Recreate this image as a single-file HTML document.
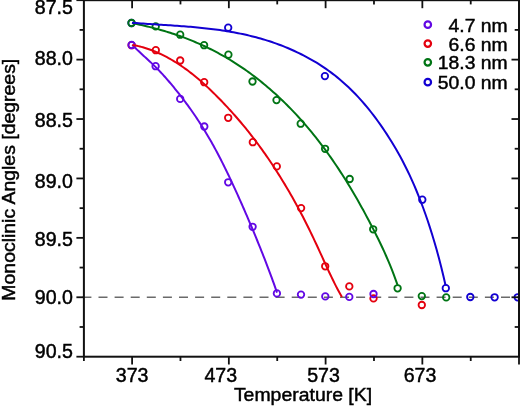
<!DOCTYPE html>
<html><head><meta charset="utf-8"><title>Monoclinic angle vs temperature</title>
<style>html,body{margin:0;padding:0;background:#fff;}body{width:520px;height:406px;overflow:hidden;}svg{display:block;}</style>
</head><body>
<svg width="520" height="406" viewBox="0 0 520 406">
<line x1="82.4" y1="297.3" x2="519.0" y2="297.3" stroke="#6a6a6a" stroke-width="1.6" stroke-dasharray="9 7.1"/>
<circle cx="131.5" cy="23.0" r="3.25" fill="none" stroke="#1200d2" stroke-width="1.8"/>
<circle cx="228.2" cy="27.7" r="3.25" fill="none" stroke="#1200d2" stroke-width="1.8"/>
<circle cx="324.9" cy="76.1" r="3.25" fill="none" stroke="#1200d2" stroke-width="1.8"/>
<circle cx="422.3" cy="199.7" r="3.25" fill="none" stroke="#1200d2" stroke-width="1.8"/>
<circle cx="445.8" cy="288.2" r="3.25" fill="none" stroke="#1200d2" stroke-width="1.8"/>
<circle cx="470.3" cy="297.0" r="3.25" fill="none" stroke="#1200d2" stroke-width="1.8"/>
<circle cx="494.6" cy="297.3" r="3.25" fill="none" stroke="#1200d2" stroke-width="1.8"/>
<circle cx="517.7" cy="297.3" r="3.25" fill="none" stroke="#1200d2" stroke-width="1.8"/>
<circle cx="131.5" cy="23.0" r="3.25" fill="none" stroke="#007414" stroke-width="1.8"/>
<circle cx="155.7" cy="26.4" r="3.25" fill="none" stroke="#007414" stroke-width="1.8"/>
<circle cx="180.2" cy="34.7" r="3.25" fill="none" stroke="#007414" stroke-width="1.8"/>
<circle cx="204.1" cy="45.2" r="3.25" fill="none" stroke="#007414" stroke-width="1.8"/>
<circle cx="228.4" cy="54.7" r="3.25" fill="none" stroke="#007414" stroke-width="1.8"/>
<circle cx="252.5" cy="81.5" r="3.25" fill="none" stroke="#007414" stroke-width="1.8"/>
<circle cx="276.5" cy="100.1" r="3.25" fill="none" stroke="#007414" stroke-width="1.8"/>
<circle cx="300.7" cy="123.7" r="3.25" fill="none" stroke="#007414" stroke-width="1.8"/>
<circle cx="325.1" cy="148.8" r="3.25" fill="none" stroke="#007414" stroke-width="1.8"/>
<circle cx="349.7" cy="179.0" r="3.25" fill="none" stroke="#007414" stroke-width="1.8"/>
<circle cx="373.2" cy="229.3" r="3.25" fill="none" stroke="#007414" stroke-width="1.8"/>
<circle cx="397.6" cy="288.3" r="3.25" fill="none" stroke="#007414" stroke-width="1.8"/>
<circle cx="421.8" cy="296.1" r="3.25" fill="none" stroke="#007414" stroke-width="1.8"/>
<circle cx="446.2" cy="297.4" r="3.25" fill="none" stroke="#007414" stroke-width="1.8"/>
<circle cx="131.6" cy="45.2" r="3.25" fill="none" stroke="#e4000e" stroke-width="1.8"/>
<circle cx="155.8" cy="50.2" r="3.25" fill="none" stroke="#e4000e" stroke-width="1.8"/>
<circle cx="180.2" cy="60.5" r="3.25" fill="none" stroke="#e4000e" stroke-width="1.8"/>
<circle cx="204.2" cy="82.2" r="3.25" fill="none" stroke="#e4000e" stroke-width="1.8"/>
<circle cx="228.2" cy="117.8" r="3.25" fill="none" stroke="#e4000e" stroke-width="1.8"/>
<circle cx="252.8" cy="142.2" r="3.25" fill="none" stroke="#e4000e" stroke-width="1.8"/>
<circle cx="276.8" cy="166.4" r="3.25" fill="none" stroke="#e4000e" stroke-width="1.8"/>
<circle cx="301.1" cy="208.1" r="3.25" fill="none" stroke="#e4000e" stroke-width="1.8"/>
<circle cx="325.2" cy="266.3" r="3.25" fill="none" stroke="#e4000e" stroke-width="1.8"/>
<circle cx="349.3" cy="286.4" r="3.25" fill="none" stroke="#e4000e" stroke-width="1.8"/>
<circle cx="373.5" cy="298.4" r="3.25" fill="none" stroke="#e4000e" stroke-width="1.8"/>
<circle cx="421.8" cy="305.0" r="3.25" fill="none" stroke="#e4000e" stroke-width="1.8"/>
<circle cx="131.6" cy="45.0" r="3.25" fill="none" stroke="#6208e4" stroke-width="1.8"/>
<circle cx="155.6" cy="66.2" r="3.25" fill="none" stroke="#6208e4" stroke-width="1.8"/>
<circle cx="180.2" cy="98.9" r="3.25" fill="none" stroke="#6208e4" stroke-width="1.8"/>
<circle cx="204.3" cy="126.5" r="3.25" fill="none" stroke="#6208e4" stroke-width="1.8"/>
<circle cx="228.2" cy="182.3" r="3.25" fill="none" stroke="#6208e4" stroke-width="1.8"/>
<circle cx="252.6" cy="226.8" r="3.25" fill="none" stroke="#6208e4" stroke-width="1.8"/>
<circle cx="276.9" cy="293.4" r="3.25" fill="none" stroke="#6208e4" stroke-width="1.8"/>
<circle cx="301.0" cy="294.6" r="3.25" fill="none" stroke="#6208e4" stroke-width="1.8"/>
<circle cx="325.3" cy="296.4" r="3.25" fill="none" stroke="#6208e4" stroke-width="1.8"/>
<circle cx="349.3" cy="296.9" r="3.25" fill="none" stroke="#6208e4" stroke-width="1.8"/>
<circle cx="373.5" cy="294.0" r="3.25" fill="none" stroke="#6208e4" stroke-width="1.8"/>
<path d="M132.30,44.92 L133.34,45.99 L134.38,47.04 L135.42,48.08 L136.46,49.10 L137.51,50.10 L138.55,51.09 L139.59,52.07 L140.63,53.05 L141.67,54.01 L142.71,54.97 L143.75,55.93 L144.79,56.88 L145.83,57.83 L146.87,58.78 L147.92,59.74 L148.96,60.70 L150.00,61.66 L151.04,62.63 L152.08,63.61 L153.12,64.60 L154.16,65.61 L155.20,66.62 L156.24,67.66 L157.28,68.71 L158.33,69.77 L159.37,70.85 L160.41,71.95 L161.45,73.07 L162.49,74.19 L163.53,75.34 L164.57,76.49 L165.61,77.67 L166.65,78.85 L167.69,80.05 L168.74,81.26 L169.78,82.48 L170.82,83.72 L171.86,84.96 L172.90,86.22 L173.94,87.49 L174.98,88.76 L176.02,90.05 L177.06,91.35 L178.10,92.66 L179.15,93.98 L180.19,95.30 L181.23,96.64 L182.27,98.00 L183.31,99.36 L184.35,100.74 L185.39,102.13 L186.43,103.53 L187.47,104.94 L188.51,106.37 L189.56,107.82 L190.60,109.28 L191.64,110.75 L192.68,112.24 L193.72,113.75 L194.76,115.27 L195.80,116.80 L196.84,118.36 L197.88,119.93 L198.92,121.52 L199.97,123.13 L201.01,124.75 L202.05,126.40 L203.09,128.06 L204.13,129.74 L205.17,131.45 L206.21,133.17 L207.25,134.91 L208.29,136.68 L209.33,138.46 L210.38,140.27 L211.42,142.10 L212.46,143.95 L213.50,145.83 L214.54,147.72 L215.58,149.64 L216.62,151.58 L217.66,153.55 L218.70,155.53 L219.74,157.53 L220.79,159.56 L221.83,161.60 L222.87,163.67 L223.91,165.75 L224.95,167.85 L225.99,169.97 L227.03,172.11 L228.07,174.26 L229.11,176.44 L230.15,178.63 L231.20,180.84 L232.24,183.06 L233.28,185.30 L234.32,187.56 L235.36,189.83 L236.40,192.12 L237.44,194.42 L238.48,196.73 L239.52,199.06 L240.56,201.41 L241.61,203.76 L242.65,206.13 L243.69,208.51 L244.73,210.91 L245.77,213.31 L246.81,215.73 L247.85,218.16 L248.89,220.60 L249.93,223.05 L250.97,225.51 L252.02,227.99 L253.06,230.47 L254.10,232.96 L255.14,235.46 L256.18,237.97 L257.22,240.50 L258.26,243.04 L259.30,245.60 L260.34,248.18 L261.38,250.77 L262.43,253.38 L263.47,256.02 L264.51,258.67 L265.55,261.35 L266.59,264.05 L267.63,266.78 L268.67,269.53 L269.71,272.31 L270.75,275.11 L271.79,277.95 L272.84,280.81 L273.88,283.71 L274.92,286.64 L275.96,289.61 L277.00,292.61" fill="none" stroke="#6208e4" stroke-width="2" stroke-linejoin="round"/>
<path d="M132.30,44.91 L133.81,45.18 L135.32,45.47 L136.83,45.79 L138.33,46.13 L139.84,46.50 L141.35,46.89 L142.86,47.30 L144.37,47.74 L145.88,48.21 L147.39,48.70 L148.89,49.21 L150.40,49.75 L151.91,50.31 L153.42,50.89 L154.93,51.50 L156.44,52.13 L157.95,52.79 L159.46,53.47 L160.96,54.17 L162.47,54.90 L163.98,55.65 L165.49,56.42 L167.00,57.22 L168.51,58.04 L170.02,58.88 L171.52,59.75 L173.03,60.64 L174.54,61.55 L176.05,62.49 L177.56,63.45 L179.07,64.43 L180.58,65.43 L182.08,66.46 L183.59,67.51 L185.10,68.59 L186.61,69.68 L188.12,70.80 L189.63,71.94 L191.14,73.11 L192.65,74.29 L194.15,75.50 L195.66,76.73 L197.17,77.98 L198.68,79.26 L200.19,80.55 L201.70,81.87 L203.21,83.21 L204.71,84.58 L206.22,85.96 L207.73,87.36 L209.24,88.79 L210.75,90.23 L212.26,91.69 L213.77,93.16 L215.27,94.66 L216.78,96.17 L218.29,97.70 L219.80,99.24 L221.31,100.80 L222.82,102.37 L224.33,103.95 L225.84,105.56 L227.34,107.17 L228.85,108.81 L230.36,110.46 L231.87,112.13 L233.38,113.81 L234.89,115.52 L236.40,117.24 L237.90,118.98 L239.41,120.74 L240.92,122.52 L242.43,124.32 L243.94,126.14 L245.45,127.98 L246.96,129.84 L248.46,131.72 L249.97,133.62 L251.48,135.55 L252.99,137.50 L254.50,139.47 L256.01,141.46 L257.52,143.48 L259.03,145.52 L260.53,147.59 L262.04,149.68 L263.55,151.80 L265.06,153.94 L266.57,156.10 L268.08,158.29 L269.59,160.51 L271.09,162.75 L272.60,165.02 L274.11,167.32 L275.62,169.64 L277.13,171.99 L278.64,174.36 L280.15,176.76 L281.65,179.19 L283.16,181.65 L284.67,184.14 L286.18,186.66 L287.69,189.20 L289.20,191.78 L290.71,194.40 L292.22,197.04 L293.72,199.72 L295.23,202.44 L296.74,205.19 L298.25,207.98 L299.76,210.81 L301.27,213.67 L302.78,216.57 L304.28,219.51 L305.79,222.49 L307.30,225.50 L308.81,228.54 L310.32,231.62 L311.83,234.74 L313.34,237.89 L314.84,241.07 L316.35,244.28 L317.86,247.52 L319.37,250.80 L320.88,254.09 L322.39,257.40 L323.90,260.71 L325.41,264.01 L326.91,267.29 L328.42,270.55 L329.93,273.77 L331.44,276.94 L332.95,280.06 L334.46,283.11 L335.97,286.08 L337.47,288.96 L338.98,291.75 L340.49,294.44 L342.00,297.01" fill="none" stroke="#e4000e" stroke-width="2" stroke-linejoin="round"/>
<path d="M132.00,23.05 L133.91,23.43 L135.82,23.83 L137.73,24.24 L139.64,24.65 L141.55,25.08 L143.46,25.52 L145.38,25.96 L147.29,26.42 L149.20,26.89 L151.11,27.36 L153.02,27.85 L154.93,28.36 L156.84,28.87 L158.75,29.39 L160.66,29.93 L162.57,30.48 L164.48,31.04 L166.39,31.62 L168.31,32.21 L170.22,32.81 L172.13,33.43 L174.04,34.06 L175.95,34.70 L177.86,35.36 L179.77,36.03 L181.68,36.72 L183.59,37.43 L185.50,38.15 L187.41,38.88 L189.32,39.63 L191.23,40.40 L193.15,41.18 L195.06,41.98 L196.97,42.80 L198.88,43.63 L200.79,44.49 L202.70,45.35 L204.61,46.24 L206.52,47.15 L208.43,48.07 L210.34,49.01 L212.25,49.97 L214.16,50.95 L216.07,51.95 L217.99,52.97 L219.90,54.01 L221.81,55.07 L223.72,56.15 L225.63,57.25 L227.54,58.37 L229.45,59.51 L231.36,60.67 L233.27,61.86 L235.18,63.06 L237.09,64.29 L239.00,65.54 L240.92,66.82 L242.83,68.11 L244.74,69.43 L246.65,70.77 L248.56,72.14 L250.47,73.53 L252.38,74.94 L254.29,76.38 L256.20,77.84 L258.11,79.33 L260.02,80.84 L261.93,82.37 L263.84,83.94 L265.76,85.52 L267.67,87.14 L269.58,88.78 L271.49,90.44 L273.40,92.14 L275.31,93.86 L277.22,95.60 L279.13,97.38 L281.04,99.18 L282.95,101.01 L284.86,102.87 L286.77,104.76 L288.68,106.67 L290.60,108.62 L292.51,110.60 L294.42,112.61 L296.33,114.65 L298.24,116.73 L300.15,118.83 L302.06,120.97 L303.97,123.15 L305.88,125.36 L307.79,127.60 L309.70,129.88 L311.61,132.19 L313.53,134.54 L315.44,136.93 L317.35,139.36 L319.26,141.82 L321.17,144.32 L323.08,146.87 L324.99,149.45 L326.90,152.07 L328.81,154.73 L330.72,157.43 L332.63,160.18 L334.54,162.96 L336.45,165.79 L338.37,168.66 L340.28,171.58 L342.19,174.54 L344.10,177.54 L346.01,180.59 L347.92,183.69 L349.83,186.83 L351.74,190.02 L353.65,193.25 L355.56,196.53 L357.47,199.86 L359.38,203.23 L361.29,206.65 L363.21,210.11 L365.12,213.62 L367.03,217.18 L368.94,220.78 L370.85,224.43 L372.76,228.13 L374.67,231.88 L376.58,235.68 L378.49,239.54 L380.40,243.49 L382.31,247.54 L384.22,251.70 L386.14,255.98 L388.05,260.41 L389.96,264.99 L391.87,269.74 L393.78,274.68 L395.69,279.82 L397.60,285.17" fill="none" stroke="#007414" stroke-width="2" stroke-linejoin="round"/>
<path d="M132.00,22.76 L134.26,22.93 L136.51,23.11 L138.77,23.27 L141.02,23.44 L143.28,23.60 L145.54,23.75 L147.79,23.90 L150.05,24.05 L152.31,24.20 L154.56,24.35 L156.82,24.49 L159.07,24.63 L161.33,24.78 L163.59,24.92 L165.84,25.07 L168.10,25.21 L170.35,25.36 L172.61,25.51 L174.87,25.67 L177.12,25.82 L179.38,25.99 L181.63,26.15 L183.89,26.32 L186.15,26.50 L188.40,26.68 L190.66,26.87 L192.92,27.06 L195.17,27.26 L197.43,27.47 L199.68,27.69 L201.94,27.92 L204.20,28.15 L206.45,28.40 L208.71,28.66 L210.96,28.92 L213.22,29.20 L215.48,29.49 L217.73,29.80 L219.99,30.11 L222.24,30.44 L224.50,30.78 L226.76,31.14 L229.01,31.51 L231.27,31.90 L233.53,32.30 L235.78,32.72 L238.04,33.16 L240.29,33.61 L242.55,34.09 L244.81,34.58 L247.06,35.08 L249.32,35.61 L251.57,36.16 L253.83,36.73 L256.09,37.32 L258.34,37.93 L260.60,38.56 L262.85,39.21 L265.11,39.89 L267.37,40.59 L269.62,41.32 L271.88,42.06 L274.14,42.84 L276.39,43.64 L278.65,44.46 L280.90,45.31 L283.16,46.19 L285.42,47.09 L287.67,48.03 L289.93,48.99 L292.18,49.98 L294.44,51.00 L296.70,52.04 L298.95,53.12 L301.21,54.23 L303.46,55.38 L305.72,56.55 L307.98,57.76 L310.23,59.01 L312.49,60.29 L314.75,61.62 L317.00,62.98 L319.26,64.39 L321.51,65.84 L323.77,67.34 L326.03,68.89 L328.28,70.49 L330.54,72.13 L332.79,73.83 L335.05,75.58 L337.31,77.39 L339.56,79.26 L341.82,81.18 L344.07,83.17 L346.33,85.21 L348.59,87.32 L350.84,89.50 L353.10,91.74 L355.36,94.05 L357.61,96.42 L359.87,98.87 L362.12,101.40 L364.38,103.99 L366.64,106.67 L368.89,109.42 L371.15,112.25 L373.40,115.16 L375.66,118.15 L377.92,121.23 L380.17,124.39 L382.43,127.64 L384.68,130.98 L386.94,134.40 L389.20,137.92 L391.45,141.53 L393.71,145.25 L395.97,149.07 L398.22,153.02 L400.48,157.09 L402.73,161.32 L404.99,165.69 L407.25,170.23 L409.50,174.94 L411.76,179.85 L414.01,184.94 L416.27,190.25 L418.53,195.77 L420.78,201.53 L423.04,207.52 L425.29,213.77 L427.55,220.28 L429.81,227.09 L432.06,234.22 L434.32,241.70 L436.58,249.56 L438.83,257.84 L441.09,266.55 L443.34,275.73 L445.60,285.41" fill="none" stroke="#1200d2" stroke-width="2" stroke-linejoin="round"/>
<rect x="83.9" y="0.2" width="435.1" height="356.5" fill="none" stroke="#111" stroke-width="2"/>
<line x1="83.90" y1="356.7" x2="83.90" y2="361.0" stroke="#111" stroke-width="1.8"/>
<line x1="132.10" y1="356.7" x2="132.10" y2="364.5" stroke="#111" stroke-width="1.8"/>
<line x1="132.10" y1="0.2" x2="132.10" y2="8.2" stroke="#111" stroke-width="1.8"/>
<line x1="180.47" y1="356.7" x2="180.47" y2="361.0" stroke="#111" stroke-width="1.8"/>
<line x1="180.47" y1="0.2" x2="180.47" y2="4.4" stroke="#111" stroke-width="1.8"/>
<line x1="228.85" y1="356.7" x2="228.85" y2="364.5" stroke="#111" stroke-width="1.8"/>
<line x1="228.85" y1="0.2" x2="228.85" y2="8.2" stroke="#111" stroke-width="1.8"/>
<line x1="277.23" y1="356.7" x2="277.23" y2="361.0" stroke="#111" stroke-width="1.8"/>
<line x1="277.23" y1="0.2" x2="277.23" y2="4.4" stroke="#111" stroke-width="1.8"/>
<line x1="325.60" y1="356.7" x2="325.60" y2="364.5" stroke="#111" stroke-width="1.8"/>
<line x1="325.60" y1="0.2" x2="325.60" y2="8.2" stroke="#111" stroke-width="1.8"/>
<line x1="373.98" y1="356.7" x2="373.98" y2="361.0" stroke="#111" stroke-width="1.8"/>
<line x1="373.98" y1="0.2" x2="373.98" y2="4.4" stroke="#111" stroke-width="1.8"/>
<line x1="422.35" y1="356.7" x2="422.35" y2="364.5" stroke="#111" stroke-width="1.8"/>
<line x1="422.35" y1="0.2" x2="422.35" y2="8.2" stroke="#111" stroke-width="1.8"/>
<line x1="470.73" y1="356.7" x2="470.73" y2="361.0" stroke="#111" stroke-width="1.8"/>
<line x1="470.73" y1="0.2" x2="470.73" y2="4.4" stroke="#111" stroke-width="1.8"/>
<line x1="519.00" y1="356.7" x2="519.00" y2="364.5" stroke="#111" stroke-width="1.8"/>
<line x1="76.4" y1="0.20" x2="83.9" y2="0.20" stroke="#111" stroke-width="1.8"/>
<line x1="79.60000000000001" y1="29.91" x2="83.9" y2="29.91" stroke="#111" stroke-width="1.8"/>
<line x1="514.7" y1="29.91" x2="519.0" y2="29.91" stroke="#111" stroke-width="1.8"/>
<line x1="76.4" y1="59.62" x2="83.9" y2="59.62" stroke="#111" stroke-width="1.8"/>
<line x1="511.5" y1="59.62" x2="519.0" y2="59.62" stroke="#111" stroke-width="1.8"/>
<line x1="79.60000000000001" y1="89.32" x2="83.9" y2="89.32" stroke="#111" stroke-width="1.8"/>
<line x1="514.7" y1="89.32" x2="519.0" y2="89.32" stroke="#111" stroke-width="1.8"/>
<line x1="76.4" y1="119.03" x2="83.9" y2="119.03" stroke="#111" stroke-width="1.8"/>
<line x1="511.5" y1="119.03" x2="519.0" y2="119.03" stroke="#111" stroke-width="1.8"/>
<line x1="79.60000000000001" y1="148.74" x2="83.9" y2="148.74" stroke="#111" stroke-width="1.8"/>
<line x1="514.7" y1="148.74" x2="519.0" y2="148.74" stroke="#111" stroke-width="1.8"/>
<line x1="76.4" y1="178.44" x2="83.9" y2="178.44" stroke="#111" stroke-width="1.8"/>
<line x1="511.5" y1="178.44" x2="519.0" y2="178.44" stroke="#111" stroke-width="1.8"/>
<line x1="79.60000000000001" y1="208.15" x2="83.9" y2="208.15" stroke="#111" stroke-width="1.8"/>
<line x1="514.7" y1="208.15" x2="519.0" y2="208.15" stroke="#111" stroke-width="1.8"/>
<line x1="76.4" y1="237.86" x2="83.9" y2="237.86" stroke="#111" stroke-width="1.8"/>
<line x1="511.5" y1="237.86" x2="519.0" y2="237.86" stroke="#111" stroke-width="1.8"/>
<line x1="79.60000000000001" y1="267.57" x2="83.9" y2="267.57" stroke="#111" stroke-width="1.8"/>
<line x1="514.7" y1="267.57" x2="519.0" y2="267.57" stroke="#111" stroke-width="1.8"/>
<line x1="76.4" y1="297.27" x2="83.9" y2="297.27" stroke="#111" stroke-width="1.8"/>
<line x1="511.5" y1="297.27" x2="519.0" y2="297.27" stroke="#111" stroke-width="1.8"/>
<line x1="79.60000000000001" y1="326.98" x2="83.9" y2="326.98" stroke="#111" stroke-width="1.8"/>
<line x1="514.7" y1="326.98" x2="519.0" y2="326.98" stroke="#111" stroke-width="1.8"/>
<line x1="76.4" y1="356.69" x2="83.9" y2="356.69" stroke="#111" stroke-width="1.8"/>
<text x="72.9" y="13.70" font-family="Liberation Sans, Arial, sans-serif" stroke="#000" stroke-width="0.45" font-size="19.6" text-anchor="end">87.5</text>
<text x="72.9" y="65.40" font-family="Liberation Sans, Arial, sans-serif" stroke="#000" stroke-width="0.45" font-size="19.6" text-anchor="end">88.0</text>
<text x="72.9" y="126.60" font-family="Liberation Sans, Arial, sans-serif" stroke="#000" stroke-width="0.45" font-size="19.6" text-anchor="end">88.5</text>
<text x="72.9" y="187.60" font-family="Liberation Sans, Arial, sans-serif" stroke="#000" stroke-width="0.45" font-size="19.6" text-anchor="end">89.0</text>
<text x="72.9" y="245.80" font-family="Liberation Sans, Arial, sans-serif" stroke="#000" stroke-width="0.45" font-size="19.6" text-anchor="end">89.5</text>
<text x="72.9" y="303.60" font-family="Liberation Sans, Arial, sans-serif" stroke="#000" stroke-width="0.45" font-size="19.6" text-anchor="end">90.0</text>
<text x="72.9" y="358.30" font-family="Liberation Sans, Arial, sans-serif" stroke="#000" stroke-width="0.45" font-size="19.6" text-anchor="end">90.5</text>
<text x="132.10" y="382.3" font-family="Liberation Sans, Arial, sans-serif" stroke="#000" stroke-width="0.45" font-size="19.6" text-anchor="middle">373</text>
<text x="220.80" y="382.3" font-family="Liberation Sans, Arial, sans-serif" stroke="#000" stroke-width="0.45" font-size="19.6" text-anchor="middle">473</text>
<text x="323.50" y="382.3" font-family="Liberation Sans, Arial, sans-serif" stroke="#000" stroke-width="0.45" font-size="19.6" text-anchor="middle">573</text>
<text x="420.00" y="382.3" font-family="Liberation Sans, Arial, sans-serif" stroke="#000" stroke-width="0.45" font-size="19.6" text-anchor="middle">673</text>
<text transform="translate(303,401.3) scale(1.045,1)" x="0" y="0" font-family="Liberation Sans, Arial, sans-serif" stroke="#000" stroke-width="0.45" font-size="18.6" text-anchor="middle">Temperature [K]</text>
<text transform="translate(14.8,179.7) rotate(-90) scale(1.045,1)" x="0" y="0" font-family="Liberation Sans, Arial, sans-serif" stroke="#000" stroke-width="0.45" font-size="18.6" text-anchor="middle">Monoclinic Angles [degrees]</text>
<circle cx="427.8" cy="24.7" r="3.25" fill="none" stroke="#6208e4" stroke-width="2.2"/>
<text transform="translate(507.6,31.9) scale(1.05,1)" x="0" y="0" font-family="Liberation Sans, Arial, sans-serif" stroke="#000" stroke-width="0.45" font-size="18.4" text-anchor="end">4.7 nm</text>
<circle cx="427.8" cy="43.6" r="3.25" fill="none" stroke="#e4000e" stroke-width="2.2"/>
<text transform="translate(507.6,50.7) scale(1.05,1)" x="0" y="0" font-family="Liberation Sans, Arial, sans-serif" stroke="#000" stroke-width="0.45" font-size="18.4" text-anchor="end">6.6 nm</text>
<circle cx="427.8" cy="62.3" r="3.25" fill="none" stroke="#007414" stroke-width="2.2"/>
<text transform="translate(507.6,69.3) scale(1.05,1)" x="0" y="0" font-family="Liberation Sans, Arial, sans-serif" stroke="#000" stroke-width="0.45" font-size="18.4" text-anchor="end">18.3 nm</text>
<circle cx="427.8" cy="82.2" r="3.25" fill="none" stroke="#1200d2" stroke-width="2.2"/>
<text transform="translate(507.6,89.4) scale(1.05,1)" x="0" y="0" font-family="Liberation Sans, Arial, sans-serif" stroke="#000" stroke-width="0.45" font-size="18.4" text-anchor="end">50.0 nm</text>
</svg>
</body></html>
